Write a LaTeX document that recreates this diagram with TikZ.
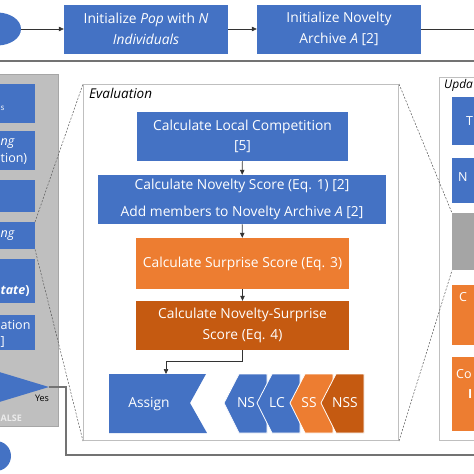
\documentclass[tikz,border=0pt]{standalone}
\usepackage{fontspec}
\setmainfont{Open Sans}
\usetikzlibrary{arrows.meta,positioning,calc,shapes.geometric}
\definecolor{offblue}{HTML}{4472C4}
\definecolor{offorange}{HTML}{ED7D31}
\definecolor{offrust}{HTML}{C55A11}
\definecolor{panelgray}{HTML}{BFBFBF}
\definecolor{midgray}{HTML}{A5A5A5}

\begin{document}
\begin{tikzpicture}[x=1pt, y=-1pt, font=\fontsize{13.8}{20.5}\selectfont,
    >={Triangle[length=5pt,width=4.5pt]}]
    \tikzset{box/.style={fill=offblue, text=white, align=center, inner sep=2pt},
             panel/.style={draw=panelgray, fill=white, line width=1pt},
             flow/.style={draw=black!80, line width=0.6pt},
             loopline/.style={draw=black!55, line width=1.2pt},
             zoomline/.style={draw=black!65, dash pattern=on 2pt off 1.5pt, line width=0.5pt},
             frag/.style={text=white, inner sep=0pt, font=\fontsize{12.5}{15}\selectfont}}
    \useasboundingbox (0,0) rectangle (474,474);
    \fill[white] (0,0) rectangle (474,474);
    % initialisation row
    \node[ellipse, fill=offblue, minimum width=48pt, minimum height=33pt] (start) at (-3,29) {};
    \node[box, minimum width=164pt, minimum height=49pt] (initpop) at (146,29)
      {Initialize \textit{Pop} with \textit{N}\\\textit{Individuals}};
    \node[box, minimum width=164pt, minimum height=49pt] (initarch) at (339,29)
      {Initialize Novelty\\Archive \textit{A} [2]};
    \coordinate (toright) at (474,29);
    \draw[flow,->] (start) -- (initpop);
    \draw[flow,->] (initpop) -- (initarch);
    \draw[flow] (initarch) -- (toright);
    \coordinate (loopR) at (474,61);
    \coordinate (loopL) at (0,61);
    \draw[loopline] (loopR) -- (loopL);
    % generation loop (left)
    \draw[draw=black!35, fill=panelgray] (-5,74) rectangle (58,426);
    \node[box, anchor=north east, minimum width=60pt, minimum height=39pt] (lboxA) at (35,84) {};
    \node[box, anchor=north east, minimum width=60pt, minimum height=39pt] (lboxB) at (35,131) {};
    \node[box, anchor=north east, minimum width=60pt, minimum height=32pt] (lboxC) at (35,180) {};
    \node[box, anchor=north east, minimum width=60pt, minimum height=27pt] (lboxD) at (35,222) {};
    \node[box, anchor=north east, minimum width=60pt, minimum height=44pt] (lboxE) at (35,259) {};
    \node[box, anchor=north east, minimum width=60pt, minimum height=35pt] (lboxF) at (35,315) {};
    \node[frag, anchor=west, font=\fontsize{8}{9}\selectfont] (fragA) at (0.5,108) {s};
    \node[frag, anchor=east] (fragB1) at (15,144) {\textit{ng}};
    \node[frag, anchor=west] (fragB2) at (0.5,159) {tion)};
    \node[frag, anchor=west] (fragD) at (0.5,236) {\textit{ng}};
    \node[frag, anchor=west] (fragE) at (0.5,291) {\textbf{\textit{tate})}};
    \node[frag, anchor=west] (fragF1) at (0.5,325) {ation};
    \node[frag, anchor=west] (fragF2) at (0.5,342) {]};
    \node[diamond, fill=offblue, minimum width=218pt, minimum height=66pt, inner sep=0pt] (cond) at (-60,387) {};
    \node[font=\fontsize{9}{11}\selectfont, inner sep=0pt] (yes) at (42,398) {Yes};
    \node[font=\fontsize{9}{11}\selectfont\bfseries, text=white!92!black, inner sep=0pt, anchor=west] (falsetag) at (0.5,418) {ALSE};
    \node[circle, fill=offblue, minimum size=30pt] (stop) at (-4,456) {};
    \coordinate (yesbend) at (66,455);
    \coordinate (toright2) at (474,455);
    \draw[loopline] (cond.east) -| (yesbend) -- (toright2);
    % evaluation detail
    \node[panel, anchor=north west, minimum width=315pt, minimum height=356pt] (evalbox) at (83,84) {};
    \node[anchor=north west, font=\fontsize{13.5}{16}\selectfont\itshape, inner sep=0pt] (evaltitle) at (89,88) {Evaluation};
    \node[box, minimum width=211pt, minimum height=49pt] (lc) at (242.5,136.5)
      {Calculate Local Competition\\{[5]}};
    \node[box, minimum width=288pt, minimum height=49pt] (ns) at (242,199.5)
      {Calculate Novelty Score (Eq. 1) [2]\\[7pt]Add members to Novelty Archive \textit{A} [2]};
    \node[box, fill=offorange, minimum width=213pt, minimum height=51pt] (ss) at (242.5,263.5)
      {Calculate Surprise Score (Eq. 3)};
    \node[box, fill=offrust, minimum width=213pt, minimum height=49pt] (nss) at (242.5,325.5)
      {Calculate Novelty-Surprise\\Score (Eq. 4)};
    \draw[flow,->] (lc) -- (ns);
    \draw[flow,->] (ns) -- (ss);
    \draw[flow,->] (ss) -- (nss);
    \fill[offblue] (109,374) -- (206,374) -- (190,403) -- (207,433) -- (109,433) -- cycle;
    \node[text=white] (assign) at (149,404) {Assign};
    \coordinate (assignin) at (166,374);
    \draw[flow,->] (nss.south) -- ++(0,11) -| (assignin);
    \foreach \x/\col/\lbl/\tx in {224/offblue/NS/246, 257/offblue/LC/277, 290/offorange/SS/309, 321/offrust/NSS/345} {
      \filldraw[fill=\col, draw=white, line width=0.8pt]
        (\x,403) -- (\x+15,374) -- (\x+43,374) -- (\x+43,433) -- (\x+15,433) -- cycle;
      \node[text=white, inner sep=0pt] (tag-\lbl) at (\tx,403) {\lbl};
    }
    % update step (right)
    \node[panel, anchor=north west, minimum width=50pt, minimum height=363pt] (updbox) at (439,77) {};
    \node[anchor=north west, font=\fontsize{12}{15}\selectfont\itshape, inner sep=0pt] (updtitle) at (444,79) {Upda};
    \node[box, anchor=north west, minimum width=40pt, minimum height=48pt] (rboxA) at (452,97) {};
    \node[box, anchor=north west, minimum width=40pt, minimum height=45pt] (rboxB) at (452,158) {};
    \node[box, fill=midgray, anchor=north west, minimum width=40pt, minimum height=57pt] (rgray) at (452,213) {};
    \node[box, fill=offorange, anchor=north west, minimum width=40pt, minimum height=60pt] (rboxC) at (452,285) {};
    \node[box, fill=offorange, anchor=north west, minimum width=40pt, minimum height=74pt] (rboxD) at (452,357) {};
    \node[frag, anchor=west] (fragR1) at (466,121) {T};
    \node[frag, anchor=west] (fragR2) at (458,177) {N};
    \node[frag, anchor=west] (fragR3) at (459,297) {C};
    \node[frag, anchor=west] (fragR4) at (456,374) {Co};
    \node[frag, anchor=west] (fragR5) at (468,394) {\textbf{I}};
    % zoom lines
    \draw[zoomline] (lboxD.north east) -- (evalbox.north west);
    \draw[zoomline] (lboxD.south east) -- (evalbox.south west);
    \draw[zoomline] (evalbox.north east) -- (rgray.north west);
    \draw[zoomline] (evalbox.south east) -- (rgray.south west);
\end{tikzpicture}
\end{document}
